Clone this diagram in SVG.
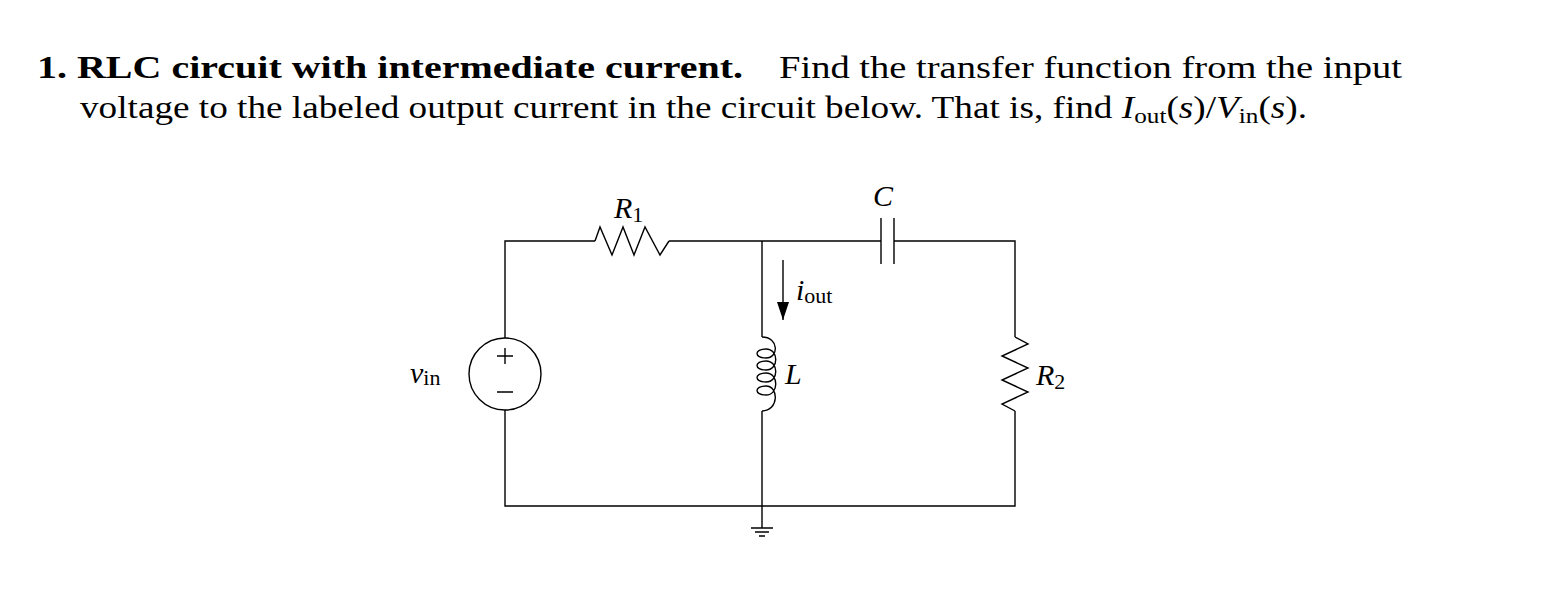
<svg xmlns="http://www.w3.org/2000/svg" width="1546" height="592" viewBox="0 0 1546 592">
<style>
.w{fill:none;stroke:#000;stroke-width:1.4}
.t{font-family:"Liberation Serif",serif;font-size:31px;fill:#000}
.m{font-family:"Liberation Serif",serif;font-style:italic;font-size:30px;fill:#000}
.s{font-family:"Liberation Serif",serif;font-size:22px;fill:#000}
</style>
<defs><marker id="ah" viewBox="0 0 18 12" refX="18" refY="6" markerWidth="18" markerHeight="12" markerUnits="userSpaceOnUse" orient="auto"><path d="M0,0L18,6L0,12z" fill="#000"/></marker></defs>
<rect width="1546" height="592" fill="#fff"/>
<text class="t" x="37" y="78" font-weight="bold" textLength="706" lengthAdjust="spacingAndGlyphs">1. RLC circuit with intermediate current.</text>
<text class="t" x="779" y="78" textLength="623" lengthAdjust="spacingAndGlyphs">Find the transfer function from the input</text>
<text class="t" x="80" y="118" textLength="1227" lengthAdjust="spacingAndGlyphs">voltage to the labeled output current in the circuit below. That is, find <tspan font-style="italic">I</tspan><tspan font-size="21" dy="5">out</tspan><tspan dy="-5">(</tspan><tspan font-style="italic">s</tspan>)/<tspan font-style="italic">V</tspan><tspan font-size="21" dy="5">in</tspan><tspan dy="-5">(</tspan><tspan font-style="italic">s</tspan>).</text>
<g id="wires">
<path class="w" d="M505,338V241H595M669,241H881M894,241H1015V337M1015,411V506H505V410M762,241V337M762,411V528"/>
</g>
<g id="vin"><circle class="w" cx="505" cy="374" r="36"/><path class="w" d="M497,356h16M505,348v16M497,392h16"/><text class="m" x="410" y="383">v<tspan class="s" font-style="normal" dy="2">in</tspan></text></g>
<g id="R1"><path class="w" d="M595,241L600,227L612,255L623,227L634,255L645,227L660,255L669,241"/><text class="m" x="614" y="218">R<tspan class="s" font-style="normal" dy="4">1</tspan></text></g>
<g id="C"><path class="w" d="M881,218V264M894,218V264"/><text class="m" x="873" y="206">C</text></g>
<g id="L"><path class="w" d="M762,337C779,337 779,358 766,358C754,358 754,349 766,349C779,349 779,370 766,370C754,370 754,361 766,361C779,361 779,382 766,382C754,382 754,373 766,373C779,373 779,395 766,395C754,395 754,386 766,386C779,386 779,411 762,411"/><text class="m" x="785" y="384">L</text></g>
<g id="R2"><path class="w" d="M1015,337L1028,344L1002,356L1028,368L1002,380L1028,392L1002,404L1015,411"/><text class="m" x="1036" y="385">R<tspan class="s" font-style="normal" dy="4">2</tspan></text></g>
<g id="iout"><path class="w" d="M783,260V320" marker-end="url(#ah)"/><text class="m" x="796" y="300">i<tspan class="s" font-style="normal" dy="3">out</tspan></text></g>
<g id="gnd"><path class="w" d="M751,528h22M755,532h14M759,536h6"/></g>
</svg>
